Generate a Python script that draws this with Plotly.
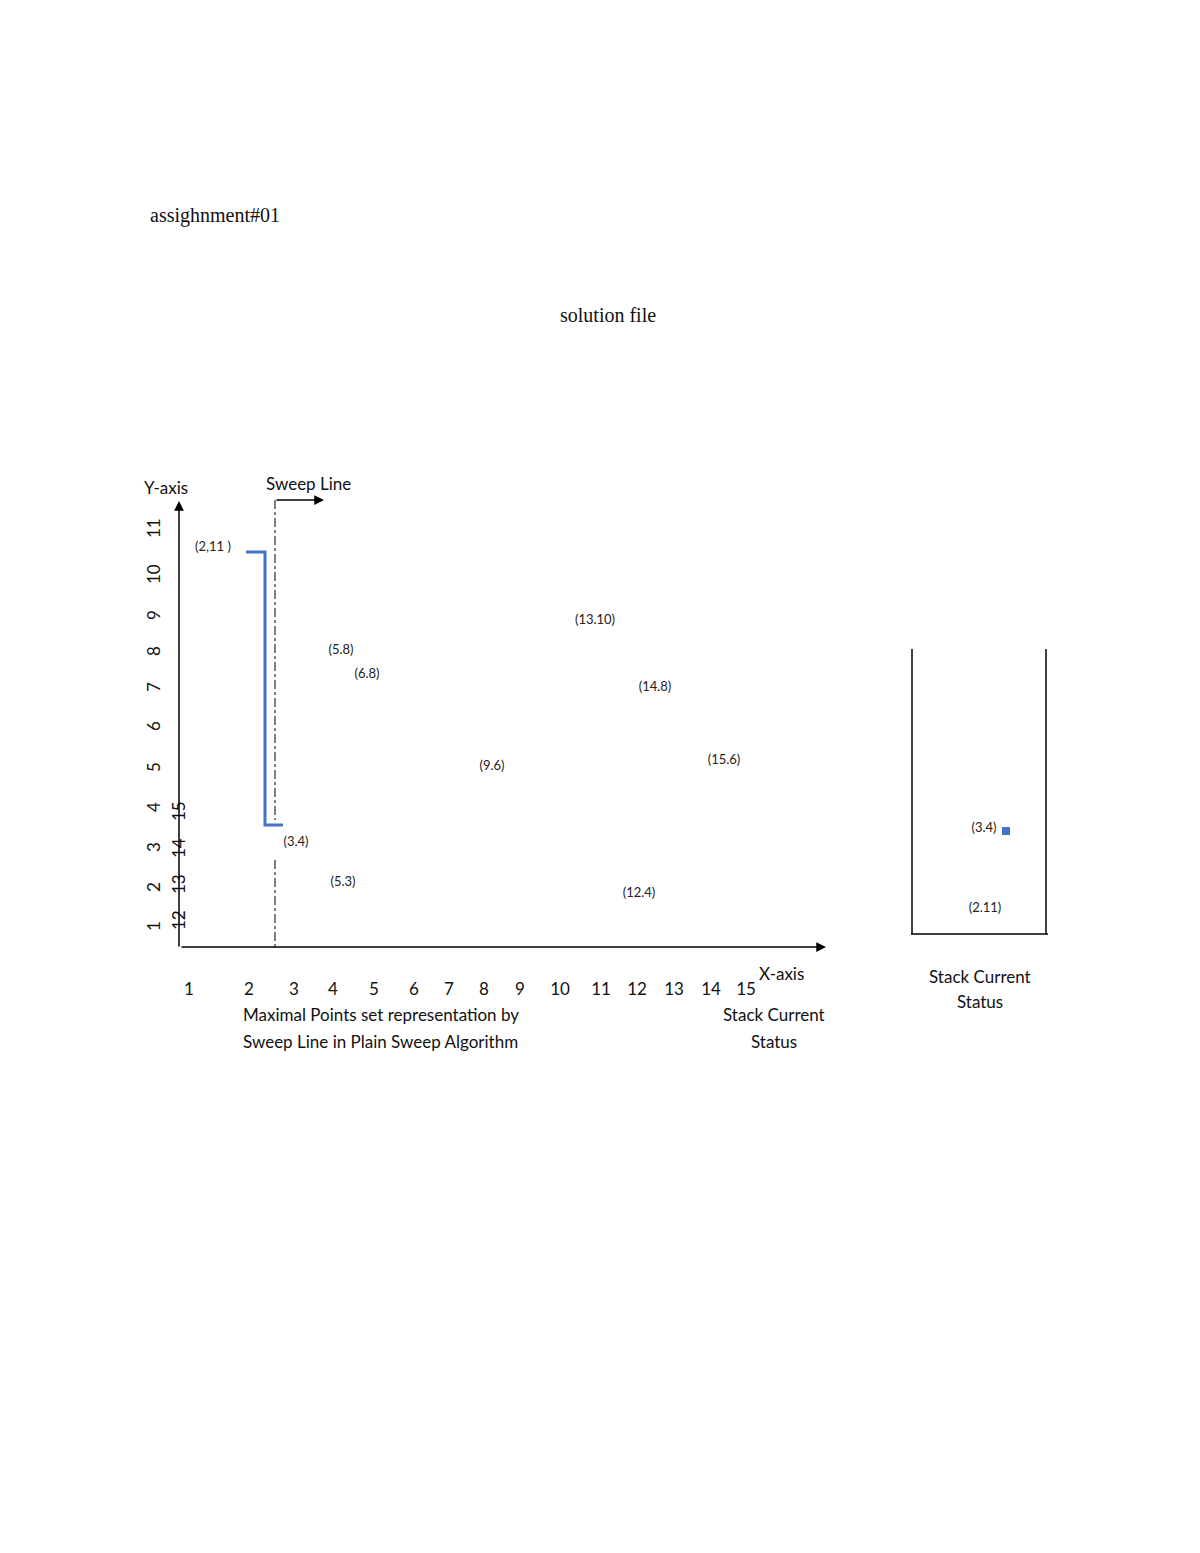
import plotly.graph_objects as go

# --- data (page-pixel layout of the hand-drawn diagram) ---
x_ticks = ["1","2","3","4","5","6","7","8","9","10","11","12","13","14","15"]
x_tick_px = [181,241,286,325,366,406,441,476,512,552,593,629,666,703,738]
y_ticks = ["1","2","3","4","5","6","7","8","9","10","11"]
y_tick_px = [918,879,839,799,759,718,679,643,607,566,520]
y_extra = ["12","13","14","15"]
y_extra_px = [912,876,840,803]
pt_labels = ["(2,11 )","(3.4)","(5.3)","(5.8)","(6.8)","(13.10)","(14.8)","(9.6)","(15.6)","(12.4)"]
pt_x = [205,288,335,333,359,587,647,484,716,631]
pt_y = [540,835,875,643,667,613,680,759,753,886]
stack_labels = ["(3.4)","(2.11)"]
stack_x = [976,977]
stack_y = [821,901]
maximal_x = [238,257,257,275]
maximal_y = [544,544,817,817]

F = "Lato"
fig = go.Figure()
fig.add_trace(go.Scatter(x=pt_x, y=pt_y, mode="text", text=pt_labels,
                         textfont=dict(family=F, size=13, color="#222")))
fig.add_trace(go.Scatter(x=stack_x, y=stack_y, mode="text", text=stack_labels,
                         textfont=dict(family=F, size=13, color="#222")))
fig.add_trace(go.Scatter(x=[998], y=[823], mode="markers",
                         marker=dict(color="#4472C4", size=8, symbol="square")))
fig.add_trace(go.Scatter(x=maximal_x, y=maximal_y, mode="lines",
                         line=dict(color="#4472C4", width=3)))
fig.add_trace(go.Scatter(x=x_tick_px, y=[983]*len(x_ticks), mode="text", text=x_ticks,
                         textfont=dict(family=F, size=17, color="#111")))

anns = []
for t, y in zip(y_ticks, y_tick_px):
    anns.append(dict(x=145, y=y, text=t, textangle=-90, showarrow=False,
                     font=dict(family=F, size=17, color="#111")))
for t, y in zip(y_extra, y_extra_px):
    anns.append(dict(x=170, y=y, text=t, textangle=-90, showarrow=False,
                     font=dict(family=F, size=17, color="#111")))
texts = [
    ("assighnment#01", 140, 207, "left", 20, "Liberation Serif"),
    ("solution file", 600, 307, "center", 20, "Liberation Serif"),
    ("Y-axis", 158, 479, "center", 17, F),
    ("Sweep Line", 300, 475, "center", 17, F),
    ("X-axis", 773, 965, "center", 17, F),
    ("Maximal Points set representation by", 373, 1006, "center", 17, F),
    ("Sweep Line in Plain Sweep Algorithm", 372, 1033, "center", 17, F),
    ("Stack Current", 766, 1006, "center", 17, F),
    ("Status", 766, 1033, "center", 17, F),
    ("Stack Current", 972, 968, "center", 17, F),
    ("Status", 972, 993, "center", 17, F),
]
for t, x, y, al, s, fam in texts:
    anns.append(dict(x=x, y=y, text=t, showarrow=False, xanchor=al,
                     font=dict(family=fam, size=s, color="#111")))
# arrows
anns.append(dict(x=171, y=493, ax=171, ay=940, axref="x", ayref="y", showarrow=True,
                 arrowhead=2, arrowsize=1.3, arrowwidth=1.5, arrowcolor="#000", text=""))
anns.append(dict(x=818, y=939, ax=172, ay=939, axref="x", ayref="y", showarrow=True,
                 arrowhead=2, arrowsize=1.3, arrowwidth=1.5, arrowcolor="#000", text=""))
anns.append(dict(x=316, y=492, ax=267, ay=492, axref="x", ayref="y", showarrow=True,
                 arrowhead=2, arrowsize=1.3, arrowwidth=1.5, arrowcolor="#000", text=""))

shapes = [
    dict(type="line", x0=267, x1=267, y0=492, y1=812, line=dict(color="#000", width=1, dash="dashdot")),
    dict(type="line", x0=267, x1=267, y0=852, y1=939, line=dict(color="#000", width=1, dash="dashdot")),
    dict(type="line", x0=904, x1=904, y0=641, y1=926, line=dict(color="#000", width=1.5)),
    dict(type="line", x0=1038, x1=1038, y0=641, y1=926, line=dict(color="#000", width=1.5)),
    dict(type="line", x0=903, x1=1040, y0=926, y1=926, line=dict(color="#000", width=1.5)),
]

fig.update_layout(width=1200, height=1553, margin=dict(l=0, r=0, t=0, b=0),
                  paper_bgcolor="white", plot_bgcolor="white", showlegend=False,
                  xaxis=dict(range=[0, 1200], visible=False),
                  yaxis=dict(range=[1553, 0], visible=False),
                  annotations=anns, shapes=shapes)
fig.write_html("out.html")
